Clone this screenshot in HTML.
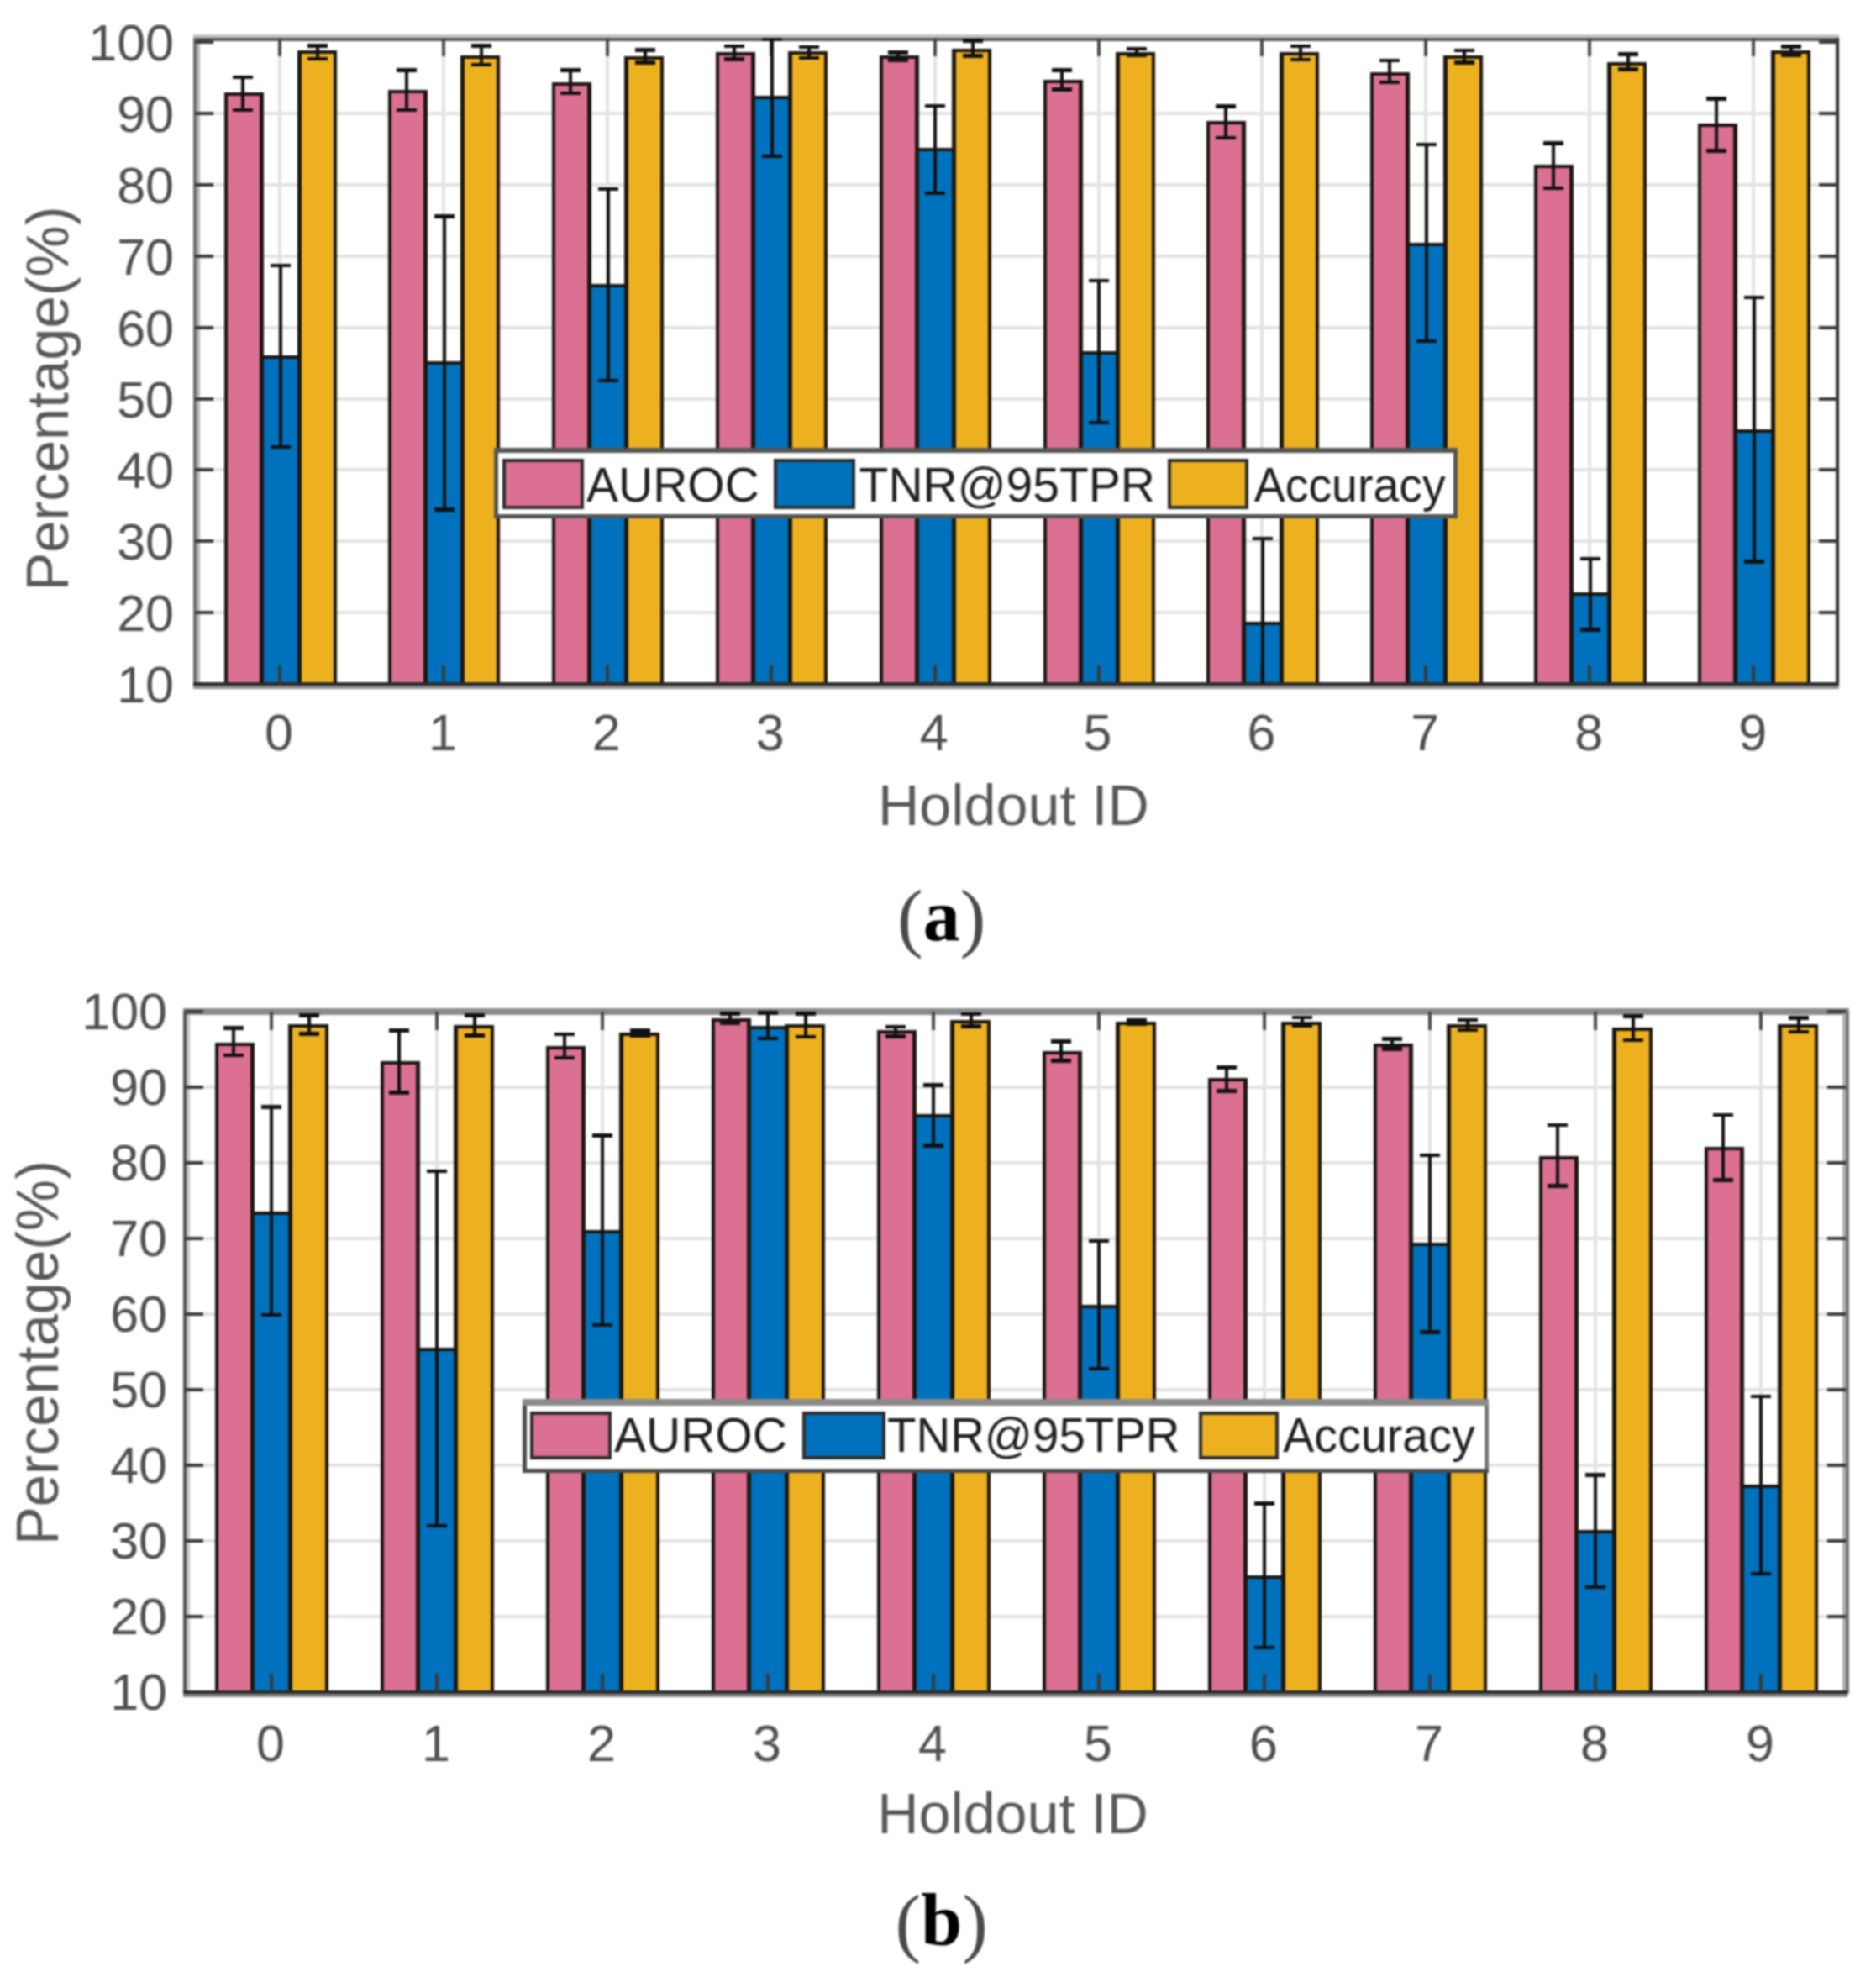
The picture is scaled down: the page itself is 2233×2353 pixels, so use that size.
<!DOCTYPE html>
<html lang="en">
<head>
<meta charset="utf-8">
<title>Holdout results</title>
<style>
html,body{margin:0;padding:0;background:#fff;}
body{width:2233px;height:2353px;overflow:hidden;}
svg{display:block;filter:blur(1.15px);}
text{font-family:"Liberation Sans",sans-serif;}
.tk{font-size:61px;fill:#505050;}
.lb{font-size:68.3px;fill:#585858;}
.yl{font-size:70.5px;}
.lg{font-size:57px;fill:#1e1e1e;}
.cp{font-family:"Liberation Serif",serif;font-size:88px;fill:#000;}
.pr{font-size:92px;font-weight:normal;fill:#4a4a4a;}
.bd{font-weight:bold;}
</style>
</head>
<body>
<svg width="2233" height="2353" viewBox="0 0 2233 2353" shape-rendering="crispEdges">
<rect x="0" y="0" width="2233" height="2353" fill="#ffffff"/>
<rect x="232.0" y="727.1" width="1955.0" height="4.0" fill="#e3e3e3" />
<rect x="232.0" y="642.3" width="1955.0" height="4.0" fill="#e3e3e3" />
<rect x="232.0" y="557.4" width="1955.0" height="4.0" fill="#e3e3e3" />
<rect x="232.0" y="472.6" width="1955.0" height="4.0" fill="#e3e3e3" />
<rect x="232.0" y="387.7" width="1955.0" height="4.0" fill="#e3e3e3" />
<rect x="232.0" y="302.9" width="1955.0" height="4.0" fill="#e3e3e3" />
<rect x="232.0" y="218.0" width="1955.0" height="4.0" fill="#e3e3e3" />
<rect x="232.0" y="133.2" width="1955.0" height="4.0" fill="#e3e3e3" />
<rect x="331.0" y="45.0" width="4.0" height="769.0" fill="#e3e3e3" />
<rect x="525.9" y="45.0" width="4.0" height="769.0" fill="#e3e3e3" />
<rect x="720.8" y="45.0" width="4.0" height="769.0" fill="#e3e3e3" />
<rect x="915.7" y="45.0" width="4.0" height="769.0" fill="#e3e3e3" />
<rect x="1110.6" y="45.0" width="4.0" height="769.0" fill="#e3e3e3" />
<rect x="1305.5" y="45.0" width="4.0" height="769.0" fill="#e3e3e3" />
<rect x="1500.4" y="45.0" width="4.0" height="769.0" fill="#e3e3e3" />
<rect x="1695.3" y="45.0" width="4.0" height="769.0" fill="#e3e3e3" />
<rect x="1890.2" y="45.0" width="4.0" height="769.0" fill="#e3e3e3" />
<rect x="2085.1" y="45.0" width="4.0" height="769.0" fill="#e3e3e3" />
<rect x="267.0" y="109.6" width="47.0" height="704.4" fill="#1c1610" />
<rect x="271.0" y="113.6" width="38.0" height="700.4" fill="#db7093" />
<rect x="309.0" y="422.5" width="49.5" height="391.5" fill="#1c1610" />
<rect x="314.0" y="426.5" width="39.5" height="387.5" fill="#0072bd" />
<rect x="353.5" y="59.7" width="47.0" height="754.3" fill="#1c1610" />
<rect x="358.5" y="63.7" width="38.0" height="750.3" fill="#edb120" />
<rect x="461.9" y="107.2" width="47.0" height="706.8" fill="#1c1610" />
<rect x="465.9" y="111.2" width="38.0" height="702.8" fill="#db7093" />
<rect x="503.9" y="430.0" width="49.5" height="384.0" fill="#1c1610" />
<rect x="508.9" y="434.0" width="39.5" height="380.0" fill="#0072bd" />
<rect x="548.4" y="66.0" width="47.0" height="748.0" fill="#1c1610" />
<rect x="553.4" y="70.0" width="38.0" height="744.0" fill="#edb120" />
<rect x="656.8" y="97.7" width="47.0" height="716.3" fill="#1c1610" />
<rect x="660.8" y="101.7" width="38.0" height="712.3" fill="#db7093" />
<rect x="698.8" y="338.2" width="49.5" height="475.8" fill="#1c1610" />
<rect x="703.8" y="342.2" width="39.5" height="471.8" fill="#0072bd" />
<rect x="743.3" y="67.2" width="47.0" height="746.8" fill="#1c1610" />
<rect x="748.3" y="71.2" width="38.0" height="742.8" fill="#edb120" />
<rect x="851.7" y="62.0" width="47.0" height="752.0" fill="#1c1610" />
<rect x="855.7" y="66.0" width="38.0" height="748.0" fill="#db7093" />
<rect x="893.7" y="114.0" width="49.5" height="700.0" fill="#1c1610" />
<rect x="898.7" y="118.0" width="39.5" height="696.0" fill="#0072bd" />
<rect x="938.2" y="61.0" width="47.0" height="753.0" fill="#1c1610" />
<rect x="943.2" y="65.0" width="38.0" height="749.0" fill="#edb120" />
<rect x="1046.6" y="66.0" width="47.0" height="748.0" fill="#1c1610" />
<rect x="1050.6" y="70.0" width="38.0" height="744.0" fill="#db7093" />
<rect x="1088.6" y="175.5" width="49.5" height="638.5" fill="#1c1610" />
<rect x="1093.6" y="179.5" width="39.5" height="634.5" fill="#0072bd" />
<rect x="1133.1" y="58.0" width="47.0" height="756.0" fill="#1c1610" />
<rect x="1138.1" y="62.0" width="38.0" height="752.0" fill="#edb120" />
<rect x="1241.5" y="94.8" width="47.0" height="719.2" fill="#1c1610" />
<rect x="1245.5" y="98.8" width="38.0" height="715.2" fill="#db7093" />
<rect x="1283.5" y="418.0" width="49.5" height="396.0" fill="#1c1610" />
<rect x="1288.5" y="422.0" width="39.5" height="392.0" fill="#0072bd" />
<rect x="1328.0" y="62.0" width="47.0" height="752.0" fill="#1c1610" />
<rect x="1333.0" y="66.0" width="38.0" height="748.0" fill="#edb120" />
<rect x="1436.4" y="144.3" width="47.0" height="669.7" fill="#1c1610" />
<rect x="1440.4" y="148.3" width="38.0" height="665.7" fill="#db7093" />
<rect x="1478.4" y="740.0" width="49.5" height="74.0" fill="#1c1610" />
<rect x="1483.4" y="744.0" width="39.5" height="70.0" fill="#0072bd" />
<rect x="1522.9" y="62.0" width="47.0" height="752.0" fill="#1c1610" />
<rect x="1527.9" y="66.0" width="38.0" height="748.0" fill="#edb120" />
<rect x="1631.3" y="85.6" width="47.0" height="728.4" fill="#1c1610" />
<rect x="1635.3" y="89.6" width="38.0" height="724.4" fill="#db7093" />
<rect x="1673.3" y="288.9" width="49.5" height="525.1" fill="#1c1610" />
<rect x="1678.3" y="292.9" width="39.5" height="521.1" fill="#0072bd" />
<rect x="1717.8" y="66.2" width="47.0" height="747.8" fill="#1c1610" />
<rect x="1722.8" y="70.2" width="38.0" height="743.8" fill="#edb120" />
<rect x="1826.2" y="195.9" width="47.0" height="618.1" fill="#1c1610" />
<rect x="1830.2" y="199.9" width="38.0" height="614.1" fill="#db7093" />
<rect x="1868.2" y="705.0" width="49.5" height="109.0" fill="#1c1610" />
<rect x="1873.2" y="709.0" width="39.5" height="105.0" fill="#0072bd" />
<rect x="1912.7" y="73.7" width="47.0" height="740.3" fill="#1c1610" />
<rect x="1917.7" y="77.7" width="38.0" height="736.3" fill="#edb120" />
<rect x="2021.1" y="147.4" width="47.0" height="666.6" fill="#1c1610" />
<rect x="2025.1" y="151.4" width="38.0" height="662.6" fill="#db7093" />
<rect x="2063.1" y="510.8" width="49.5" height="303.2" fill="#1c1610" />
<rect x="2068.1" y="514.8" width="39.5" height="299.2" fill="#0072bd" />
<rect x="2107.6" y="60.4" width="47.0" height="753.6" fill="#1c1610" />
<rect x="2112.6" y="64.4" width="38.0" height="749.6" fill="#edb120" />
<rect x="230.0" y="41.0" width="1959.0" height="4.0" fill="#c4c4c4" />
<rect x="230.0" y="45.0" width="1959.0" height="4.0" fill="#5a5a5a" />
<rect x="230.0" y="45.0" width="4.0" height="769.0" fill="#6e6e6e" />
<rect x="234.0" y="49.0" width="4.0" height="765.0" fill="#b5b5b5" />
<rect x="2185.0" y="45.0" width="4.0" height="771.0" fill="#2a2a2a" />
<rect x="230.0" y="812.0" width="1959.0" height="4.0" fill="#2b2b2b" />
<rect x="230.0" y="816.0" width="1959.0" height="4.0" fill="#8a8a8a" />
<rect x="232.0" y="727.1" width="22.0" height="4.0" fill="#3a3a3a" />
<rect x="2165.0" y="727.1" width="22.0" height="4.0" fill="#3a3a3a" />
<rect x="232.0" y="642.3" width="22.0" height="4.0" fill="#3a3a3a" />
<rect x="2165.0" y="642.3" width="22.0" height="4.0" fill="#3a3a3a" />
<rect x="232.0" y="557.4" width="22.0" height="4.0" fill="#3a3a3a" />
<rect x="2165.0" y="557.4" width="22.0" height="4.0" fill="#3a3a3a" />
<rect x="232.0" y="472.6" width="22.0" height="4.0" fill="#3a3a3a" />
<rect x="2165.0" y="472.6" width="22.0" height="4.0" fill="#3a3a3a" />
<rect x="232.0" y="387.7" width="22.0" height="4.0" fill="#3a3a3a" />
<rect x="2165.0" y="387.7" width="22.0" height="4.0" fill="#3a3a3a" />
<rect x="232.0" y="302.9" width="22.0" height="4.0" fill="#3a3a3a" />
<rect x="2165.0" y="302.9" width="22.0" height="4.0" fill="#3a3a3a" />
<rect x="232.0" y="218.0" width="22.0" height="4.0" fill="#3a3a3a" />
<rect x="2165.0" y="218.0" width="22.0" height="4.0" fill="#3a3a3a" />
<rect x="232.0" y="133.2" width="22.0" height="4.0" fill="#3a3a3a" />
<rect x="2165.0" y="133.2" width="22.0" height="4.0" fill="#3a3a3a" />
<rect x="232.0" y="48.3" width="22.0" height="4.0" fill="#3a3a3a" />
<rect x="2165.0" y="48.3" width="22.0" height="4.0" fill="#3a3a3a" />
<rect x="331.0" y="792.0" width="4.0" height="22.0" fill="#3a3a3a" />
<rect x="331.0" y="45.0" width="4.0" height="22.0" fill="#4a4a4a" />
<rect x="525.9" y="792.0" width="4.0" height="22.0" fill="#3a3a3a" />
<rect x="525.9" y="45.0" width="4.0" height="22.0" fill="#4a4a4a" />
<rect x="720.8" y="792.0" width="4.0" height="22.0" fill="#3a3a3a" />
<rect x="720.8" y="45.0" width="4.0" height="22.0" fill="#4a4a4a" />
<rect x="915.7" y="792.0" width="4.0" height="22.0" fill="#3a3a3a" />
<rect x="915.7" y="45.0" width="4.0" height="22.0" fill="#4a4a4a" />
<rect x="1110.6" y="792.0" width="4.0" height="22.0" fill="#3a3a3a" />
<rect x="1110.6" y="45.0" width="4.0" height="22.0" fill="#4a4a4a" />
<rect x="1305.5" y="792.0" width="4.0" height="22.0" fill="#3a3a3a" />
<rect x="1305.5" y="45.0" width="4.0" height="22.0" fill="#4a4a4a" />
<rect x="1500.4" y="792.0" width="4.0" height="22.0" fill="#3a3a3a" />
<rect x="1500.4" y="45.0" width="4.0" height="22.0" fill="#4a4a4a" />
<rect x="1695.3" y="792.0" width="4.0" height="22.0" fill="#3a3a3a" />
<rect x="1695.3" y="45.0" width="4.0" height="22.0" fill="#4a4a4a" />
<rect x="1890.2" y="792.0" width="4.0" height="22.0" fill="#3a3a3a" />
<rect x="1890.2" y="45.0" width="4.0" height="22.0" fill="#4a4a4a" />
<rect x="2085.1" y="792.0" width="4.0" height="22.0" fill="#3a3a3a" />
<rect x="2085.1" y="45.0" width="4.0" height="22.0" fill="#4a4a4a" />
<rect x="287.2" y="91.5" width="4.0" height="39.8" fill="#111" />
<rect x="277.2" y="89.5" width="24.0" height="4.5" fill="#111" />
<rect x="277.2" y="128.8" width="24.0" height="4.5" fill="#111" />
<rect x="331.8" y="315.5" width="4.0" height="216.8" fill="#111" />
<rect x="321.8" y="313.5" width="24.0" height="4.5" fill="#111" />
<rect x="321.8" y="529.8" width="24.0" height="4.5" fill="#111" />
<rect x="376.2" y="54.0" width="4.0" height="16.3" fill="#111" />
<rect x="366.2" y="52.0" width="24.0" height="4.5" fill="#111" />
<rect x="366.2" y="67.8" width="24.0" height="4.5" fill="#111" />
<rect x="482.1" y="83.0" width="4.0" height="48.3" fill="#111" />
<rect x="472.1" y="81.0" width="24.0" height="4.5" fill="#111" />
<rect x="472.1" y="128.8" width="24.0" height="4.5" fill="#111" />
<rect x="526.6" y="257.2" width="4.0" height="349.3" fill="#111" />
<rect x="516.6" y="255.2" width="24.0" height="4.5" fill="#111" />
<rect x="516.6" y="604.0" width="24.0" height="4.5" fill="#111" />
<rect x="571.1" y="54.2" width="4.0" height="22.8" fill="#111" />
<rect x="561.1" y="52.2" width="24.0" height="4.5" fill="#111" />
<rect x="561.1" y="74.5" width="24.0" height="4.5" fill="#111" />
<rect x="677.0" y="83.0" width="4.0" height="28.3" fill="#111" />
<rect x="667.0" y="81.0" width="24.0" height="4.5" fill="#111" />
<rect x="667.0" y="108.8" width="24.0" height="4.5" fill="#111" />
<rect x="721.5" y="224.7" width="4.0" height="228.3" fill="#111" />
<rect x="711.5" y="222.7" width="24.0" height="4.5" fill="#111" />
<rect x="711.5" y="450.5" width="24.0" height="4.5" fill="#111" />
<rect x="766.0" y="59.0" width="4.0" height="15.8" fill="#111" />
<rect x="756.0" y="57.0" width="24.0" height="4.5" fill="#111" />
<rect x="756.0" y="72.3" width="24.0" height="4.5" fill="#111" />
<rect x="872.0" y="54.7" width="4.0" height="15.8" fill="#111" />
<rect x="862.0" y="52.7" width="24.0" height="4.5" fill="#111" />
<rect x="862.0" y="68.0" width="24.0" height="4.5" fill="#111" />
<rect x="916.5" y="46.5" width="4.0" height="139.5" fill="#111" />
<rect x="906.5" y="44.5" width="24.0" height="4.5" fill="#111" />
<rect x="906.5" y="183.5" width="24.0" height="4.5" fill="#111" />
<rect x="961.0" y="55.6" width="4.0" height="13.6" fill="#111" />
<rect x="951.0" y="53.6" width="24.0" height="4.5" fill="#111" />
<rect x="951.0" y="66.7" width="24.0" height="4.5" fill="#111" />
<rect x="1066.8" y="62.0" width="4.0" height="9.5" fill="#111" />
<rect x="1056.8" y="60.0" width="24.0" height="4.5" fill="#111" />
<rect x="1056.8" y="69.0" width="24.0" height="4.5" fill="#111" />
<rect x="1111.3" y="125.5" width="4.0" height="104.5" fill="#111" />
<rect x="1101.3" y="123.5" width="24.0" height="4.5" fill="#111" />
<rect x="1101.3" y="227.5" width="24.0" height="4.5" fill="#111" />
<rect x="1155.8" y="48.0" width="4.0" height="18.9" fill="#111" />
<rect x="1145.8" y="46.0" width="24.0" height="4.5" fill="#111" />
<rect x="1145.8" y="64.4" width="24.0" height="4.5" fill="#111" />
<rect x="1261.8" y="83.3" width="4.0" height="23.5" fill="#111" />
<rect x="1251.8" y="81.3" width="24.0" height="4.5" fill="#111" />
<rect x="1251.8" y="104.3" width="24.0" height="4.5" fill="#111" />
<rect x="1306.2" y="333.6" width="4.0" height="169.7" fill="#111" />
<rect x="1296.2" y="331.6" width="24.0" height="4.5" fill="#111" />
<rect x="1296.2" y="500.8" width="24.0" height="4.5" fill="#111" />
<rect x="1350.8" y="57.7" width="4.0" height="8.5" fill="#111" />
<rect x="1340.8" y="55.7" width="24.0" height="4.5" fill="#111" />
<rect x="1340.8" y="63.7" width="24.0" height="4.5" fill="#111" />
<rect x="1456.7" y="126.0" width="4.0" height="38.3" fill="#111" />
<rect x="1446.7" y="124.0" width="24.0" height="4.5" fill="#111" />
<rect x="1446.7" y="161.8" width="24.0" height="4.5" fill="#111" />
<rect x="1501.2" y="640.7" width="4.0" height="173.3" fill="#111" />
<rect x="1491.2" y="638.7" width="24.0" height="4.5" fill="#111" />
<rect x="1545.7" y="54.7" width="4.0" height="16.7" fill="#111" />
<rect x="1535.7" y="52.7" width="24.0" height="4.5" fill="#111" />
<rect x="1535.7" y="68.9" width="24.0" height="4.5" fill="#111" />
<rect x="1651.5" y="71.8" width="4.0" height="26.4" fill="#111" />
<rect x="1641.5" y="69.8" width="24.0" height="4.5" fill="#111" />
<rect x="1641.5" y="95.7" width="24.0" height="4.5" fill="#111" />
<rect x="1696.0" y="171.6" width="4.0" height="234.6" fill="#111" />
<rect x="1686.0" y="169.6" width="24.0" height="4.5" fill="#111" />
<rect x="1686.0" y="403.7" width="24.0" height="4.5" fill="#111" />
<rect x="1740.5" y="59.9" width="4.0" height="14.9" fill="#111" />
<rect x="1730.5" y="57.9" width="24.0" height="4.5" fill="#111" />
<rect x="1730.5" y="72.3" width="24.0" height="4.5" fill="#111" />
<rect x="1846.5" y="170.4" width="4.0" height="53.9" fill="#111" />
<rect x="1836.5" y="168.4" width="24.0" height="4.5" fill="#111" />
<rect x="1836.5" y="221.8" width="24.0" height="4.5" fill="#111" />
<rect x="1891.0" y="664.6" width="4.0" height="84.9" fill="#111" />
<rect x="1881.0" y="662.6" width="24.0" height="4.5" fill="#111" />
<rect x="1881.0" y="747.0" width="24.0" height="4.5" fill="#111" />
<rect x="1935.5" y="64.4" width="4.0" height="18.2" fill="#111" />
<rect x="1925.5" y="62.4" width="24.0" height="4.5" fill="#111" />
<rect x="1925.5" y="80.1" width="24.0" height="4.5" fill="#111" />
<rect x="2041.4" y="117.0" width="4.0" height="62.7" fill="#111" />
<rect x="2031.4" y="115.0" width="24.0" height="4.5" fill="#111" />
<rect x="2031.4" y="177.2" width="24.0" height="4.5" fill="#111" />
<rect x="2085.9" y="353.8" width="4.0" height="314.8" fill="#111" />
<rect x="2075.9" y="351.8" width="24.0" height="4.5" fill="#111" />
<rect x="2075.9" y="666.1" width="24.0" height="4.5" fill="#111" />
<rect x="2130.4" y="55.0" width="4.0" height="11.4" fill="#111" />
<rect x="2120.4" y="53.0" width="24.0" height="4.5" fill="#111" />
<rect x="2120.4" y="63.9" width="24.0" height="4.5" fill="#111" />
<text x="207" y="836.0" text-anchor="end" class="tk">10</text>
<text x="207" y="751.1" text-anchor="end" class="tk">20</text>
<text x="207" y="666.3" text-anchor="end" class="tk">30</text>
<text x="207" y="581.4" text-anchor="end" class="tk">40</text>
<text x="207" y="496.6" text-anchor="end" class="tk">50</text>
<text x="207" y="411.7" text-anchor="end" class="tk">60</text>
<text x="207" y="326.9" text-anchor="end" class="tk">70</text>
<text x="207" y="242.0" text-anchor="end" class="tk">80</text>
<text x="207" y="157.2" text-anchor="end" class="tk">90</text>
<text x="207" y="72.3" text-anchor="end" class="tk">100</text>
<text x="332.0" y="893" text-anchor="middle" class="tk">0</text>
<text x="526.9" y="893" text-anchor="middle" class="tk">1</text>
<text x="721.8" y="893" text-anchor="middle" class="tk">2</text>
<text x="916.7" y="893" text-anchor="middle" class="tk">3</text>
<text x="1111.6" y="893" text-anchor="middle" class="tk">4</text>
<text x="1306.5" y="893" text-anchor="middle" class="tk">5</text>
<text x="1501.4" y="893" text-anchor="middle" class="tk">6</text>
<text x="1696.3" y="893" text-anchor="middle" class="tk">7</text>
<text x="1891.2" y="893" text-anchor="middle" class="tk">8</text>
<text x="2086.1" y="893" text-anchor="middle" class="tk">9</text>
<text x="1206.4" y="981.5" text-anchor="middle" class="lb">Holdout ID</text>
<text transform="translate(80.5,474.5) rotate(-90)" text-anchor="middle" class="lb yl" textLength="458" lengthAdjust="spacingAndGlyphs">Percentage(%)</text>
<text x="1120.7" y="1119" text-anchor="middle" class="cp"><tspan class="pr" dy="3">(</tspan><tspan class="bd" dy="-3">a</tspan><tspan class="pr" dy="3">)</tspan></text>
<rect x="588.0" y="533.0" width="1147.0" height="84.0" fill="#555" />
<rect x="593.0" y="539.0" width="1137.0" height="73.0" fill="#fff" />
<rect x="598.0" y="546.0" width="97.0" height="59.5" fill="#2e2e2e" />
<rect x="602.0" y="550.0" width="89.0" height="51.5" fill="#db7093" />
<text x="698.0" y="597" class="lg">AUROC</text>
<rect x="921.0" y="546.0" width="97.0" height="59.5" fill="#2e2e2e" />
<rect x="925.0" y="550.0" width="89.0" height="51.5" fill="#0072bd" />
<text x="1022.6" y="597" class="lg">TNR@95TPR</text>
<rect x="1390.0" y="546.0" width="96.0" height="59.5" fill="#2e2e2e" />
<rect x="1394.0" y="550.0" width="88.0" height="51.5" fill="#edb120" />
<text x="1492.7" y="597" class="lg" textLength="228" lengthAdjust="spacingAndGlyphs">Accuracy</text>
<rect x="220.0" y="1922.0" width="1977.0" height="4.0" fill="#e3e3e3" />
<rect x="220.0" y="1832.0" width="1977.0" height="4.0" fill="#e3e3e3" />
<rect x="220.0" y="1742.0" width="1977.0" height="4.0" fill="#e3e3e3" />
<rect x="220.0" y="1652.0" width="1977.0" height="4.0" fill="#e3e3e3" />
<rect x="220.0" y="1562.0" width="1977.0" height="4.0" fill="#e3e3e3" />
<rect x="220.0" y="1472.0" width="1977.0" height="4.0" fill="#e3e3e3" />
<rect x="220.0" y="1382.0" width="1977.0" height="4.0" fill="#e3e3e3" />
<rect x="220.0" y="1292.0" width="1977.0" height="4.0" fill="#e3e3e3" />
<rect x="321.0" y="1204.0" width="4.0" height="810.0" fill="#e3e3e3" />
<rect x="518.0" y="1204.0" width="4.0" height="810.0" fill="#e3e3e3" />
<rect x="715.0" y="1204.0" width="4.0" height="810.0" fill="#e3e3e3" />
<rect x="912.0" y="1204.0" width="4.0" height="810.0" fill="#e3e3e3" />
<rect x="1109.0" y="1204.0" width="4.0" height="810.0" fill="#e3e3e3" />
<rect x="1306.0" y="1204.0" width="4.0" height="810.0" fill="#e3e3e3" />
<rect x="1503.0" y="1204.0" width="4.0" height="810.0" fill="#e3e3e3" />
<rect x="1700.0" y="1204.0" width="4.0" height="810.0" fill="#e3e3e3" />
<rect x="1897.0" y="1204.0" width="4.0" height="810.0" fill="#e3e3e3" />
<rect x="2094.0" y="1204.0" width="4.0" height="810.0" fill="#e3e3e3" />
<rect x="255.5" y="1241.2" width="47.5" height="772.8" fill="#1c1610" />
<rect x="259.5" y="1245.2" width="38.5" height="768.8" fill="#db7093" />
<rect x="298.0" y="1441.6" width="50.0" height="572.4" fill="#1c1610" />
<rect x="303.0" y="1445.6" width="40.0" height="568.4" fill="#0072bd" />
<rect x="343.0" y="1219.0" width="47.5" height="795.0" fill="#1c1610" />
<rect x="348.0" y="1223.0" width="38.5" height="791.0" fill="#edb120" />
<rect x="452.5" y="1262.5" width="47.5" height="751.5" fill="#1c1610" />
<rect x="456.5" y="1266.5" width="38.5" height="747.5" fill="#db7093" />
<rect x="495.0" y="1603.6" width="50.0" height="410.4" fill="#1c1610" />
<rect x="500.0" y="1607.6" width="40.0" height="406.4" fill="#0072bd" />
<rect x="540.0" y="1219.9" width="47.5" height="794.1" fill="#1c1610" />
<rect x="545.0" y="1223.9" width="38.5" height="790.1" fill="#edb120" />
<rect x="649.5" y="1245.4" width="47.5" height="768.6" fill="#1c1610" />
<rect x="653.5" y="1249.4" width="38.5" height="764.6" fill="#db7093" />
<rect x="692.0" y="1464.2" width="50.0" height="549.8" fill="#1c1610" />
<rect x="697.0" y="1468.2" width="40.0" height="545.8" fill="#0072bd" />
<rect x="737.0" y="1229.2" width="47.5" height="784.8" fill="#1c1610" />
<rect x="742.0" y="1233.2" width="38.5" height="780.8" fill="#edb120" />
<rect x="846.5" y="1212.2" width="47.5" height="801.8" fill="#1c1610" />
<rect x="850.5" y="1216.2" width="38.5" height="797.8" fill="#db7093" />
<rect x="889.0" y="1220.8" width="50.0" height="793.2" fill="#1c1610" />
<rect x="894.0" y="1224.8" width="40.0" height="789.2" fill="#0072bd" />
<rect x="934.0" y="1219.0" width="47.5" height="795.0" fill="#1c1610" />
<rect x="939.0" y="1223.0" width="38.5" height="791.0" fill="#edb120" />
<rect x="1043.5" y="1226.0" width="47.5" height="788.0" fill="#1c1610" />
<rect x="1047.5" y="1230.0" width="38.5" height="784.0" fill="#db7093" />
<rect x="1086.0" y="1326.3" width="50.0" height="687.7" fill="#1c1610" />
<rect x="1091.0" y="1330.3" width="40.0" height="683.7" fill="#0072bd" />
<rect x="1131.0" y="1213.7" width="47.5" height="800.3" fill="#1c1610" />
<rect x="1136.0" y="1217.7" width="38.5" height="796.3" fill="#edb120" />
<rect x="1240.5" y="1251.0" width="47.5" height="763.0" fill="#1c1610" />
<rect x="1244.5" y="1255.0" width="38.5" height="759.0" fill="#db7093" />
<rect x="1283.0" y="1552.5" width="50.0" height="461.5" fill="#1c1610" />
<rect x="1288.0" y="1556.5" width="40.0" height="457.5" fill="#0072bd" />
<rect x="1328.0" y="1216.4" width="47.5" height="797.6" fill="#1c1610" />
<rect x="1333.0" y="1220.4" width="38.5" height="793.6" fill="#edb120" />
<rect x="1437.5" y="1283.0" width="47.5" height="731.0" fill="#1c1610" />
<rect x="1441.5" y="1287.0" width="38.5" height="727.0" fill="#db7093" />
<rect x="1480.0" y="1875.3" width="50.0" height="138.7" fill="#1c1610" />
<rect x="1485.0" y="1879.3" width="40.0" height="134.7" fill="#0072bd" />
<rect x="1525.0" y="1215.6" width="47.5" height="798.4" fill="#1c1610" />
<rect x="1530.0" y="1219.6" width="38.5" height="794.4" fill="#edb120" />
<rect x="1634.5" y="1242.0" width="47.5" height="772.0" fill="#1c1610" />
<rect x="1638.5" y="1246.0" width="38.5" height="768.0" fill="#db7093" />
<rect x="1677.0" y="1479.1" width="50.0" height="534.9" fill="#1c1610" />
<rect x="1682.0" y="1483.1" width="40.0" height="530.9" fill="#0072bd" />
<rect x="1722.0" y="1219.0" width="47.5" height="795.0" fill="#1c1610" />
<rect x="1727.0" y="1223.0" width="38.5" height="791.0" fill="#edb120" />
<rect x="1831.5" y="1375.7" width="47.5" height="638.3" fill="#1c1610" />
<rect x="1835.5" y="1379.7" width="38.5" height="634.3" fill="#db7093" />
<rect x="1874.0" y="1821.0" width="50.0" height="193.0" fill="#1c1610" />
<rect x="1879.0" y="1825.0" width="40.0" height="189.0" fill="#0072bd" />
<rect x="1919.0" y="1223.1" width="47.5" height="790.9" fill="#1c1610" />
<rect x="1924.0" y="1227.1" width="38.5" height="786.9" fill="#edb120" />
<rect x="2028.5" y="1365.0" width="47.5" height="649.0" fill="#1c1610" />
<rect x="2032.5" y="1369.0" width="38.5" height="645.0" fill="#db7093" />
<rect x="2071.0" y="1767.0" width="50.0" height="247.0" fill="#1c1610" />
<rect x="2076.0" y="1771.0" width="40.0" height="243.0" fill="#0072bd" />
<rect x="2116.0" y="1218.9" width="47.5" height="795.1" fill="#1c1610" />
<rect x="2121.0" y="1222.9" width="38.5" height="791.1" fill="#edb120" />
<rect x="218.0" y="1200.0" width="1983.0" height="8.0" fill="#8b8b8b" />
<rect x="218.0" y="1204.0" width="4.0" height="810.0" fill="#555" />
<rect x="222.0" y="1208.0" width="4.0" height="806.0" fill="#c4c4c4" />
<rect x="2193.0" y="1204.0" width="4.0" height="812.0" fill="#b0b0b0" />
<rect x="2197.0" y="1204.0" width="4.0" height="812.0" fill="#707070" />
<rect x="218.0" y="2012.0" width="1981.0" height="4.0" fill="#2b2b2b" />
<rect x="218.0" y="2016.0" width="1981.0" height="4.0" fill="#8a8a8a" />
<rect x="220.0" y="1922.0" width="22.0" height="4.0" fill="#3a3a3a" />
<rect x="2175.0" y="1922.0" width="22.0" height="4.0" fill="#3a3a3a" />
<rect x="220.0" y="1832.0" width="22.0" height="4.0" fill="#3a3a3a" />
<rect x="2175.0" y="1832.0" width="22.0" height="4.0" fill="#3a3a3a" />
<rect x="220.0" y="1742.0" width="22.0" height="4.0" fill="#3a3a3a" />
<rect x="2175.0" y="1742.0" width="22.0" height="4.0" fill="#3a3a3a" />
<rect x="220.0" y="1652.0" width="22.0" height="4.0" fill="#3a3a3a" />
<rect x="2175.0" y="1652.0" width="22.0" height="4.0" fill="#3a3a3a" />
<rect x="220.0" y="1562.0" width="22.0" height="4.0" fill="#3a3a3a" />
<rect x="2175.0" y="1562.0" width="22.0" height="4.0" fill="#3a3a3a" />
<rect x="220.0" y="1472.0" width="22.0" height="4.0" fill="#3a3a3a" />
<rect x="2175.0" y="1472.0" width="22.0" height="4.0" fill="#3a3a3a" />
<rect x="220.0" y="1382.0" width="22.0" height="4.0" fill="#3a3a3a" />
<rect x="2175.0" y="1382.0" width="22.0" height="4.0" fill="#3a3a3a" />
<rect x="220.0" y="1292.0" width="22.0" height="4.0" fill="#3a3a3a" />
<rect x="2175.0" y="1292.0" width="22.0" height="4.0" fill="#3a3a3a" />
<rect x="220.0" y="1202.0" width="22.0" height="4.0" fill="#3a3a3a" />
<rect x="2175.0" y="1202.0" width="22.0" height="4.0" fill="#3a3a3a" />
<rect x="321.0" y="1992.0" width="4.0" height="22.0" fill="#3a3a3a" />
<rect x="321.0" y="1204.0" width="4.0" height="22.0" fill="#4a4a4a" />
<rect x="518.0" y="1992.0" width="4.0" height="22.0" fill="#3a3a3a" />
<rect x="518.0" y="1204.0" width="4.0" height="22.0" fill="#4a4a4a" />
<rect x="715.0" y="1992.0" width="4.0" height="22.0" fill="#3a3a3a" />
<rect x="715.0" y="1204.0" width="4.0" height="22.0" fill="#4a4a4a" />
<rect x="912.0" y="1992.0" width="4.0" height="22.0" fill="#3a3a3a" />
<rect x="912.0" y="1204.0" width="4.0" height="22.0" fill="#4a4a4a" />
<rect x="1109.0" y="1992.0" width="4.0" height="22.0" fill="#3a3a3a" />
<rect x="1109.0" y="1204.0" width="4.0" height="22.0" fill="#4a4a4a" />
<rect x="1306.0" y="1992.0" width="4.0" height="22.0" fill="#3a3a3a" />
<rect x="1306.0" y="1204.0" width="4.0" height="22.0" fill="#4a4a4a" />
<rect x="1503.0" y="1992.0" width="4.0" height="22.0" fill="#3a3a3a" />
<rect x="1503.0" y="1204.0" width="4.0" height="22.0" fill="#4a4a4a" />
<rect x="1700.0" y="1992.0" width="4.0" height="22.0" fill="#3a3a3a" />
<rect x="1700.0" y="1204.0" width="4.0" height="22.0" fill="#4a4a4a" />
<rect x="1897.0" y="1992.0" width="4.0" height="22.0" fill="#3a3a3a" />
<rect x="1897.0" y="1204.0" width="4.0" height="22.0" fill="#4a4a4a" />
<rect x="2094.0" y="1992.0" width="4.0" height="22.0" fill="#3a3a3a" />
<rect x="2094.0" y="1204.0" width="4.0" height="22.0" fill="#4a4a4a" />
<rect x="276.0" y="1223.3" width="4.0" height="32.8" fill="#111" />
<rect x="266.0" y="1221.3" width="24.0" height="4.5" fill="#111" />
<rect x="266.0" y="1253.6" width="24.0" height="4.5" fill="#111" />
<rect x="321.0" y="1317.1" width="4.0" height="248.2" fill="#111" />
<rect x="311.0" y="1315.1" width="24.0" height="4.5" fill="#111" />
<rect x="311.0" y="1562.8" width="24.0" height="4.5" fill="#111" />
<rect x="366.0" y="1208.3" width="4.0" height="22.2" fill="#111" />
<rect x="356.0" y="1206.3" width="24.0" height="4.5" fill="#111" />
<rect x="356.0" y="1228.0" width="24.0" height="4.5" fill="#111" />
<rect x="473.0" y="1226.2" width="4.0" height="74.7" fill="#111" />
<rect x="463.0" y="1224.2" width="24.0" height="4.5" fill="#111" />
<rect x="463.0" y="1298.4" width="24.0" height="4.5" fill="#111" />
<rect x="518.0" y="1393.8" width="4.0" height="422.2" fill="#111" />
<rect x="508.0" y="1391.8" width="24.0" height="4.5" fill="#111" />
<rect x="508.0" y="1813.5" width="24.0" height="4.5" fill="#111" />
<rect x="563.0" y="1208.3" width="4.0" height="24.3" fill="#111" />
<rect x="553.0" y="1206.3" width="24.0" height="4.5" fill="#111" />
<rect x="553.0" y="1230.1" width="24.0" height="4.5" fill="#111" />
<rect x="670.0" y="1230.5" width="4.0" height="28.6" fill="#111" />
<rect x="660.0" y="1228.5" width="24.0" height="4.5" fill="#111" />
<rect x="660.0" y="1256.6" width="24.0" height="4.5" fill="#111" />
<rect x="715.0" y="1351.2" width="4.0" height="226.0" fill="#111" />
<rect x="705.0" y="1349.2" width="24.0" height="4.5" fill="#111" />
<rect x="705.0" y="1574.7" width="24.0" height="4.5" fill="#111" />
<rect x="760.0" y="1226.2" width="4.0" height="6.4" fill="#111" />
<rect x="750.0" y="1224.2" width="24.0" height="4.5" fill="#111" />
<rect x="750.0" y="1230.1" width="24.0" height="4.5" fill="#111" />
<rect x="867.0" y="1206.0" width="4.0" height="11.5" fill="#111" />
<rect x="857.0" y="1204.0" width="24.0" height="4.5" fill="#111" />
<rect x="857.0" y="1215.0" width="24.0" height="4.5" fill="#111" />
<rect x="912.0" y="1205.0" width="4.0" height="31.0" fill="#111" />
<rect x="902.0" y="1203.0" width="24.0" height="4.5" fill="#111" />
<rect x="902.0" y="1233.5" width="24.0" height="4.5" fill="#111" />
<rect x="957.0" y="1206.0" width="4.0" height="28.0" fill="#111" />
<rect x="947.0" y="1204.0" width="24.0" height="4.5" fill="#111" />
<rect x="947.0" y="1231.5" width="24.0" height="4.5" fill="#111" />
<rect x="1064.0" y="1221.5" width="4.0" height="12.0" fill="#111" />
<rect x="1054.0" y="1219.5" width="24.0" height="4.5" fill="#111" />
<rect x="1054.0" y="1231.0" width="24.0" height="4.5" fill="#111" />
<rect x="1109.0" y="1291.2" width="4.0" height="72.3" fill="#111" />
<rect x="1099.0" y="1289.2" width="24.0" height="4.5" fill="#111" />
<rect x="1099.0" y="1361.0" width="24.0" height="4.5" fill="#111" />
<rect x="1154.0" y="1206.5" width="4.0" height="15.0" fill="#111" />
<rect x="1144.0" y="1204.5" width="24.0" height="4.5" fill="#111" />
<rect x="1144.0" y="1219.0" width="24.0" height="4.5" fill="#111" />
<rect x="1261.0" y="1239.0" width="4.0" height="23.5" fill="#111" />
<rect x="1251.0" y="1237.0" width="24.0" height="4.5" fill="#111" />
<rect x="1251.0" y="1260.0" width="24.0" height="4.5" fill="#111" />
<rect x="1306.0" y="1476.6" width="4.0" height="152.6" fill="#111" />
<rect x="1296.0" y="1474.6" width="24.0" height="4.5" fill="#111" />
<rect x="1296.0" y="1626.7" width="24.0" height="4.5" fill="#111" />
<rect x="1351.0" y="1213.5" width="4.0" height="5.5" fill="#111" />
<rect x="1341.0" y="1211.5" width="24.0" height="4.5" fill="#111" />
<rect x="1341.0" y="1216.5" width="24.0" height="4.5" fill="#111" />
<rect x="1458.0" y="1270.2" width="4.0" height="28.5" fill="#111" />
<rect x="1448.0" y="1268.2" width="24.0" height="4.5" fill="#111" />
<rect x="1448.0" y="1296.2" width="24.0" height="4.5" fill="#111" />
<rect x="1503.0" y="1789.1" width="4.0" height="171.9" fill="#111" />
<rect x="1493.0" y="1787.1" width="24.0" height="4.5" fill="#111" />
<rect x="1493.0" y="1958.5" width="24.0" height="4.5" fill="#111" />
<rect x="1548.0" y="1210.5" width="4.0" height="10.2" fill="#111" />
<rect x="1538.0" y="1208.5" width="24.0" height="4.5" fill="#111" />
<rect x="1538.0" y="1218.2" width="24.0" height="4.5" fill="#111" />
<rect x="1655.0" y="1236.0" width="4.0" height="12.8" fill="#111" />
<rect x="1645.0" y="1234.0" width="24.0" height="4.5" fill="#111" />
<rect x="1645.0" y="1246.3" width="24.0" height="4.5" fill="#111" />
<rect x="1700.0" y="1374.6" width="4.0" height="211.1" fill="#111" />
<rect x="1690.0" y="1372.6" width="24.0" height="4.5" fill="#111" />
<rect x="1690.0" y="1583.2" width="24.0" height="4.5" fill="#111" />
<rect x="1745.0" y="1213.5" width="4.0" height="12.7" fill="#111" />
<rect x="1735.0" y="1211.5" width="24.0" height="4.5" fill="#111" />
<rect x="1735.0" y="1223.7" width="24.0" height="4.5" fill="#111" />
<rect x="1852.0" y="1338.7" width="4.0" height="73.1" fill="#111" />
<rect x="1842.0" y="1336.7" width="24.0" height="4.5" fill="#111" />
<rect x="1842.0" y="1409.3" width="24.0" height="4.5" fill="#111" />
<rect x="1897.0" y="1755.1" width="4.0" height="133.9" fill="#111" />
<rect x="1887.0" y="1753.1" width="24.0" height="4.5" fill="#111" />
<rect x="1887.0" y="1886.5" width="24.0" height="4.5" fill="#111" />
<rect x="1942.0" y="1209.1" width="4.0" height="28.9" fill="#111" />
<rect x="1932.0" y="1207.1" width="24.0" height="4.5" fill="#111" />
<rect x="1932.0" y="1235.5" width="24.0" height="4.5" fill="#111" />
<rect x="2049.0" y="1326.8" width="4.0" height="77.8" fill="#111" />
<rect x="2039.0" y="1324.8" width="24.0" height="4.5" fill="#111" />
<rect x="2039.0" y="1402.1" width="24.0" height="4.5" fill="#111" />
<rect x="2094.0" y="1661.6" width="4.0" height="211.6" fill="#111" />
<rect x="2084.0" y="1659.6" width="24.0" height="4.5" fill="#111" />
<rect x="2084.0" y="1870.7" width="24.0" height="4.5" fill="#111" />
<rect x="2139.0" y="1211.2" width="4.0" height="17.0" fill="#111" />
<rect x="2129.0" y="1209.2" width="24.0" height="4.5" fill="#111" />
<rect x="2129.0" y="1225.7" width="24.0" height="4.5" fill="#111" />
<text x="199" y="2034.5" text-anchor="end" class="tk">10</text>
<text x="199" y="1944.5" text-anchor="end" class="tk">20</text>
<text x="199" y="1854.5" text-anchor="end" class="tk">30</text>
<text x="199" y="1764.5" text-anchor="end" class="tk">40</text>
<text x="199" y="1674.5" text-anchor="end" class="tk">50</text>
<text x="199" y="1584.5" text-anchor="end" class="tk">60</text>
<text x="199" y="1494.5" text-anchor="end" class="tk">70</text>
<text x="199" y="1404.5" text-anchor="end" class="tk">80</text>
<text x="199" y="1314.5" text-anchor="end" class="tk">90</text>
<text x="199" y="1224.5" text-anchor="end" class="tk">100</text>
<text x="322.0" y="2096" text-anchor="middle" class="tk">0</text>
<text x="519.0" y="2096" text-anchor="middle" class="tk">1</text>
<text x="716.0" y="2096" text-anchor="middle" class="tk">2</text>
<text x="913.0" y="2096" text-anchor="middle" class="tk">3</text>
<text x="1110.0" y="2096" text-anchor="middle" class="tk">4</text>
<text x="1307.0" y="2096" text-anchor="middle" class="tk">5</text>
<text x="1504.0" y="2096" text-anchor="middle" class="tk">6</text>
<text x="1701.0" y="2096" text-anchor="middle" class="tk">7</text>
<text x="1898.0" y="2096" text-anchor="middle" class="tk">8</text>
<text x="2095.0" y="2096" text-anchor="middle" class="tk">9</text>
<text x="1205.5" y="2181.7" text-anchor="middle" class="lb">Holdout ID</text>
<text transform="translate(69,1610) rotate(-90)" text-anchor="middle" class="lb yl" textLength="458" lengthAdjust="spacingAndGlyphs">Percentage(%)</text>
<text x="1120.7" y="2315" text-anchor="middle" class="cp"><tspan class="pr" dy="3">(</tspan><tspan class="bd" dy="-3">b</tspan><tspan class="pr" dy="3">)</tspan></text>
<rect x="622.0" y="1665.0" width="1150.0" height="88.0" fill="#777" />
<rect x="622.0" y="1665.0" width="4.5" height="88.0" fill="#4d4d4d" />
<rect x="622.0" y="1748.0" width="1150.0" height="5.0" fill="#4a4a4a" />
<rect x="622.0" y="1665.0" width="1150.0" height="8.0" fill="#8b8b8b" />
<rect x="626.5" y="1673.0" width="1140.5" height="75.0" fill="#fff" />
<rect x="630.5" y="1680.0" width="97.5" height="57.0" fill="#2e2e2e" />
<rect x="634.5" y="1684.0" width="89.5" height="49.0" fill="#db7093" />
<text x="731.0" y="1728" class="lg">AUROC</text>
<rect x="954.5" y="1680.0" width="99.0" height="57.0" fill="#2e2e2e" />
<rect x="958.5" y="1684.0" width="91.0" height="49.0" fill="#0072bd" />
<text x="1056.0" y="1728" class="lg" textLength="348.5" lengthAdjust="spacingAndGlyphs">TNR@95TPR</text>
<rect x="1426.5" y="1680.0" width="95.5" height="57.0" fill="#2e2e2e" />
<rect x="1430.5" y="1684.0" width="87.5" height="49.0" fill="#edb120" />
<text x="1527.3" y="1728" class="lg" textLength="228.5" lengthAdjust="spacingAndGlyphs">Accuracy</text>
</svg>
</body>
</html>
